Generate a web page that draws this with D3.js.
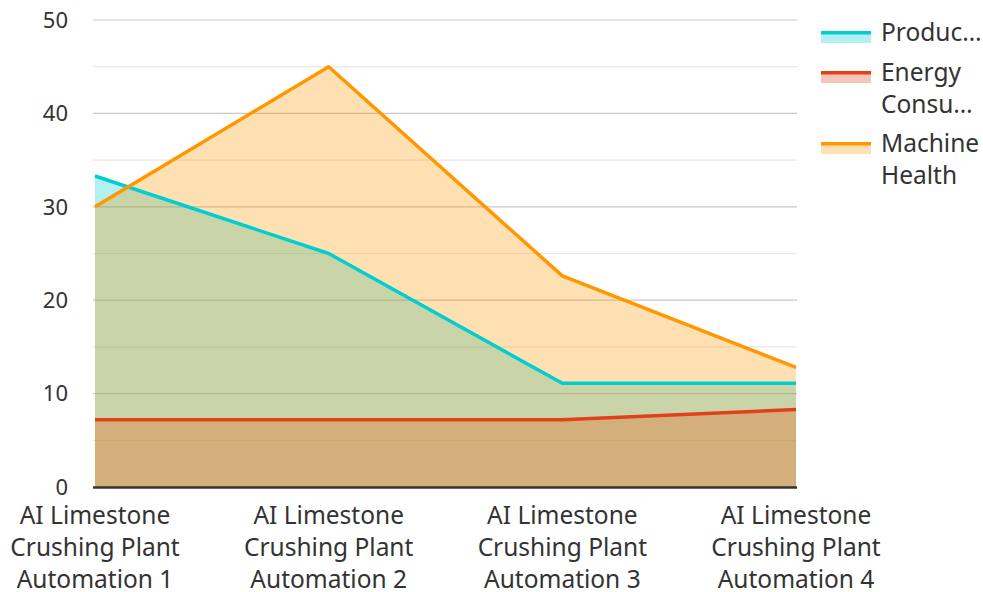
<!DOCTYPE html>
<meta charset="utf-8">
<script src="https://d3js.org/d3.v7.min.js"></script>
<style>
  body { margin: 0; background: #fff; }
  text { font-family: "Noto Sans", "Open Sans", sans-serif; fill: #333; }
</style>
<div id="my_dataviz"></div>
<script>

// data
var categories = ["AI Limestone Crushing Plant Automation 1", "AI Limestone Crushing Plant Automation 2",
                  "AI Limestone Crushing Plant Automation 3", "AI Limestone Crushing Plant Automation 4"];
var catLines = [["AI Limestone", "Crushing Plant", "Automation 1"],
                ["AI Limestone", "Crushing Plant", "Automation 2"],
                ["AI Limestone", "Crushing Plant", "Automation 3"],
                ["AI Limestone", "Crushing Plant", "Automation 4"]];
var production = [33.3, 25, 11.1, 11.1];
var energy = [7.2, 7.2, 7.2, 8.3];
var machineHealth = [30, 45, 22.6, 12.8];
var seriesNames = ["Production", "Energy Consumption", "Machine Health"];
var legendLines = [["Produc…"], ["Energy", "Consu…"], ["Machine", "Health"]];
var yTicks = [0, 10, 20, 30, 40, 50];
var yMinor = [5, 15, 25, 35, 45];

var colors = ["#00CED1", "#E0401A", "#FF9800"];
var series = [production, energy, machineHealth];

var W = 983, H = 592;
var margin = {top: 20, right: 187, bottom: 105, left: 95},
    width = W - margin.left - margin.right,
    height = H - margin.top - margin.bottom;

var svg = d3.select("#my_dataviz")
  .append("svg")
    .attr("width", W)
    .attr("height", H)
  .append("g")
    .attr("transform", "translate(" + margin.left + "," + margin.top + ")");

var x = d3.scalePoint()
  .domain(categories)
  .range([0, width]);

var y = d3.scaleLinear()
  .domain([0, 50])
  .range([height, 0]);

// gridlines
svg.selectAll(".minor")
  .data(yMinor)
  .enter().append("line")
    .attr("x1", -2).attr("x2", width + 1)
    .attr("y1", function(d) { return y(d); })
    .attr("y2", function(d) { return y(d); })
    .attr("stroke", "#e8e8e8")
    .attr("stroke-width", 1.2);

svg.selectAll(".major")
  .data(yTicks.filter(function(d) { return d > 0; }))
  .enter().append("line")
    .attr("x1", -2).attr("x2", width + 1)
    .attr("y1", function(d) { return y(d); })
    .attr("y2", function(d) { return y(d); })
    .attr("stroke", "#c8c8c8")
    .attr("stroke-width", 1.2);

// y tick labels
svg.selectAll(".ytick")
  .data(yTicks)
  .enter().append("text")
    .attr("x", -27)
    .attr("y", function(d) { return y(d); })
    .attr("dy", "0.35em")
    .attr("text-anchor", "end")
    .attr("font-size", "22px")
    .attr("fill", "#444")
    .text(function(d) { return d; });

var area = d3.area()
  .x(function(d, i) { return x(categories[i]); })
  .y0(y(0))
  .y1(function(d) { return y(d); });

var line = d3.line()
  .x(function(d, i) { return x(categories[i]); })
  .y(function(d) { return y(d); });

series.forEach(function(s, k) {
  svg.append("path")
    .datum(s)
    .attr("d", area)
    .attr("fill", colors[k])
    .attr("fill-opacity", 0.3);
});
series.forEach(function(s, k) {
  svg.append("path")
    .datum(s)
    .attr("d", line)
    .attr("fill", "none")
    .attr("stroke", colors[k])
    .attr("stroke-width", 3.5)
    .attr("stroke-linejoin", "round");
});

// x axis line
svg.append("line")
  .attr("x1", -2).attr("x2", width + 1)
  .attr("y1", height + 0.5).attr("y2", height + 0.5)
  .attr("stroke", "#333")
  .attr("stroke-width", 2.5);

// x labels
var xl = svg.selectAll(".xlab")
  .data(categories)
  .enter().append("text")
    .attr("text-anchor", "middle")
    .attr("font-size", "24.5px")
    .attr("fill", "#333")
    .attr("transform", function(d) { return "translate(" + x(d) + "," + (height + 37) + ")"; });
xl.each(function(d, i) {
  var t = d3.select(this);
  catLines[i].forEach(function(l, j) {
    t.append("tspan").attr("x", 0).attr("y", j * 32).text(l);
  });
});

// legend
var legend = svg.append("g")
  .attr("transform", "translate(" + (821 - margin.left) + "," + (0) + ")");
var rowY = [11, 51, 122];
seriesNames.forEach(function(name, k) {
  var g = legend.append("g").attr("transform", "translate(0," + rowY[k] + ")");
  g.append("rect")
    .attr("x", 0).attr("y", 0)
    .attr("width", 50).attr("height", 12)
    .attr("fill", colors[k]).attr("fill-opacity", 0.3);
  g.append("rect")
    .attr("x", 0).attr("y", 0)
    .attr("width", 50).attr("height", 3.5)
    .attr("fill", colors[k]);
  var t = g.append("text")
    .attr("font-size", "24.5px")
    .attr("fill", "#333");
  legendLines[k].forEach(function(l, j) {
    t.append("tspan").attr("x", 60).attr("y", 10 + j * 32).text(l);
  });
});

</script>
